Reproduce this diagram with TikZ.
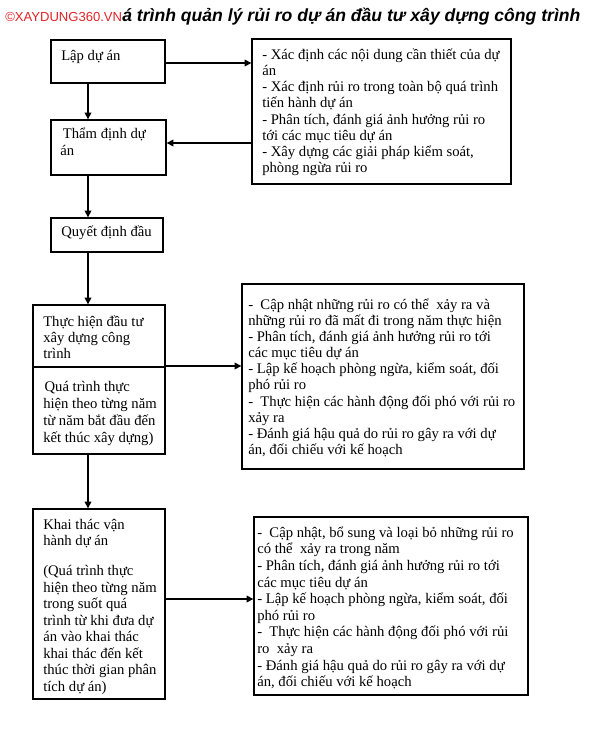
\documentclass[tikz,border=0pt]{standalone}
\usepackage{fontspec}
\setmainfont{Liberation Serif}
\newfontfamily\sansfam{Liberation Sans}
\usetikzlibrary{arrows.meta,fit}
\newcommand{\ts}{\rule{0pt}{11pt}}
\definecolor{wmred}{RGB}{225,35,40}
\begin{document}
\begin{tikzpicture}[x=0.75pt,y=-0.75pt,
  box/.style={draw, line width=1pt, inner sep=0pt},
  txt/.style={anchor=north west, inner sep=0pt, align=left},
  arr/.style={line width=1pt, -{Triangle[length=5pt,width=5pt]}},
  conn/.style={line width=1pt}]
\useasboundingbox (0,0) rectangle (604,731);
% title
\node[anchor=base west, inner sep=0pt, text=wmred, font=\sansfam\fontsize{9.8}{11}\selectfont] (wm) at (5,22) {©XAYDUNG360.VN};
\node[anchor=base west, inner sep=0pt, font=\sansfam\bfseries\itshape\fontsize{13.2}{15}\selectfont] (title) at (122,22) {á trình quản lý rủi ro dự án đầu tư xây dựng công trình};
% left boxes
\node[box, fit={(51,40) (165,83)}] (b1) {};
\node[box, fit={(51,120) (166,175)}] (b2) {};
\node[box, fit={(51,218) (163,252)}] (b3) {};
\node[box, fit={(33,305) (165,454)}] (b4) {};
\node[box, fit={(33,509) (165,699)}] (b5) {};
% right boxes
\node[box, fit={(252,39) (511,184)}] (r1) {};
\node[box, fit={(242,284) (524,469)}] (r2) {};
\node[box, fit={(254,517) (528,695)}] (r3) {};
% divider in b4
\coordinate (yd) at (0,367);
\draw[conn] (b4.west |- yd) -- (b4.east |- yd);
% texts
\node[txt, font=\fontsize{11}{12.2}\selectfont] (t1) at (61,45.3) {\ts Lập dự án};
\node[txt, font=\fontsize{11}{12.75}\selectfont] (t2) at (60,123.3) {\ts\hspace{2pt}Thẩm định dự\\án};
\node[txt, font=\fontsize{11}{12.2}\selectfont] (t3) at (61,221.3) {\ts Quyết định đầu};
\node[txt, font=\fontsize{11}{12}\selectfont] (t4a) at (43,311.3) {\ts Thực hiện đầu tư\\xây dựng công\\trình};
\node[txt, font=\fontsize{11}{12.75}\selectfont] (t4b) at (43,376.3) {\ts\hspace{1pt}Quá trình thực\\hiện theo từng năm\\từ năm bắt đầu đến\\kết thúc xây dựng)};
\node[txt, font=\fontsize{11}{12.4}\selectfont] (t5) at (43,514.3) {\ts Khai thác vận\\hành dự án\\[10pt](Quá trình thực\\hiện theo từng năm\\trong suốt quá\\trình từ khi đưa dự\\án vào khai thác\\khai thác đến kết\\thúc thời gian phân\\tích dự án)};
\node[txt, font=\fontsize{11}{12.15}\selectfont] (s1) at (262,44.3) {\ts - Xác định các nội dung cần thiết của dự\\án\\- Xác định rủi ro trong toàn bộ quá trình\\tiến hành dự án\\- Phân tích, đánh giá ảnh hưởng rủi ro\\tới các mục tiêu dự án\\- Xây dựng các giải pháp kiểm soát,\\phòng ngừa rủi ro};
\node[txt, font=\fontsize{11}{12.1}\selectfont] (s2) at (248,294.3) {\ts -~ Cập nhật những rủi ro có thể~ xảy ra và\\những rủi ro đã mất đi trong năm thực hiện\\- Phân tích, đánh giá ảnh hưởng rủi ro tới\\các mục tiêu dự án\\- Lập kế hoạch phòng ngừa, kiểm soát, đối\\phó rủi ro\\-~ Thực hiện các hành động đối phó với rủi ro\\xảy ra\\- Đánh giá hậu quả do rủi ro gây ra với dự\\án, đối chiếu với kế hoạch};
\node[txt, font=\fontsize{11}{12.45}\selectfont] (s3) at (257,522.3) {\ts -~ Cập nhật, bổ sung và loại bỏ những rủi ro\\có thể~ xảy ra trong năm\\- Phân tích, đánh giá ảnh hưởng rủi ro tới\\các mục tiêu dự án\\- Lập kế hoạch phòng ngừa, kiểm soát, đối\\phó rủi ro\\-~ Thực hiện các hành động đối phó với rủi\\ro~ xảy ra\\- Đánh giá hậu quả do rủi ro gây ra với dự\\án, đối chiếu với kế hoạch};
% connectors
\coordinate (xa) at (88,0);
\coordinate (y1) at (0,63);
\coordinate (y2) at (0,143);
\coordinate (y4) at (0,366);
\coordinate (y5) at (0,599);
\draw[arr] (b1.south -| xa) -- (b2.north -| xa);
\draw[arr] (b2.south -| xa) -- (b3.north -| xa);
\draw[arr] (b3.south -| xa) -- (b4.north -| xa);
\draw[arr] (b4.south -| xa) -- (b5.north -| xa);
\draw[arr] (b1.east |- y1) -- (r1.west |- y1);
\draw[arr] (r1.west |- y2) -- (b2.east |- y2);
\draw[arr] (b4.east |- y4) -- (r2.west |- y4);
\draw[arr] (b5.east |- y5) -- (r3.west |- y5);
\end{tikzpicture}
\end{document}
